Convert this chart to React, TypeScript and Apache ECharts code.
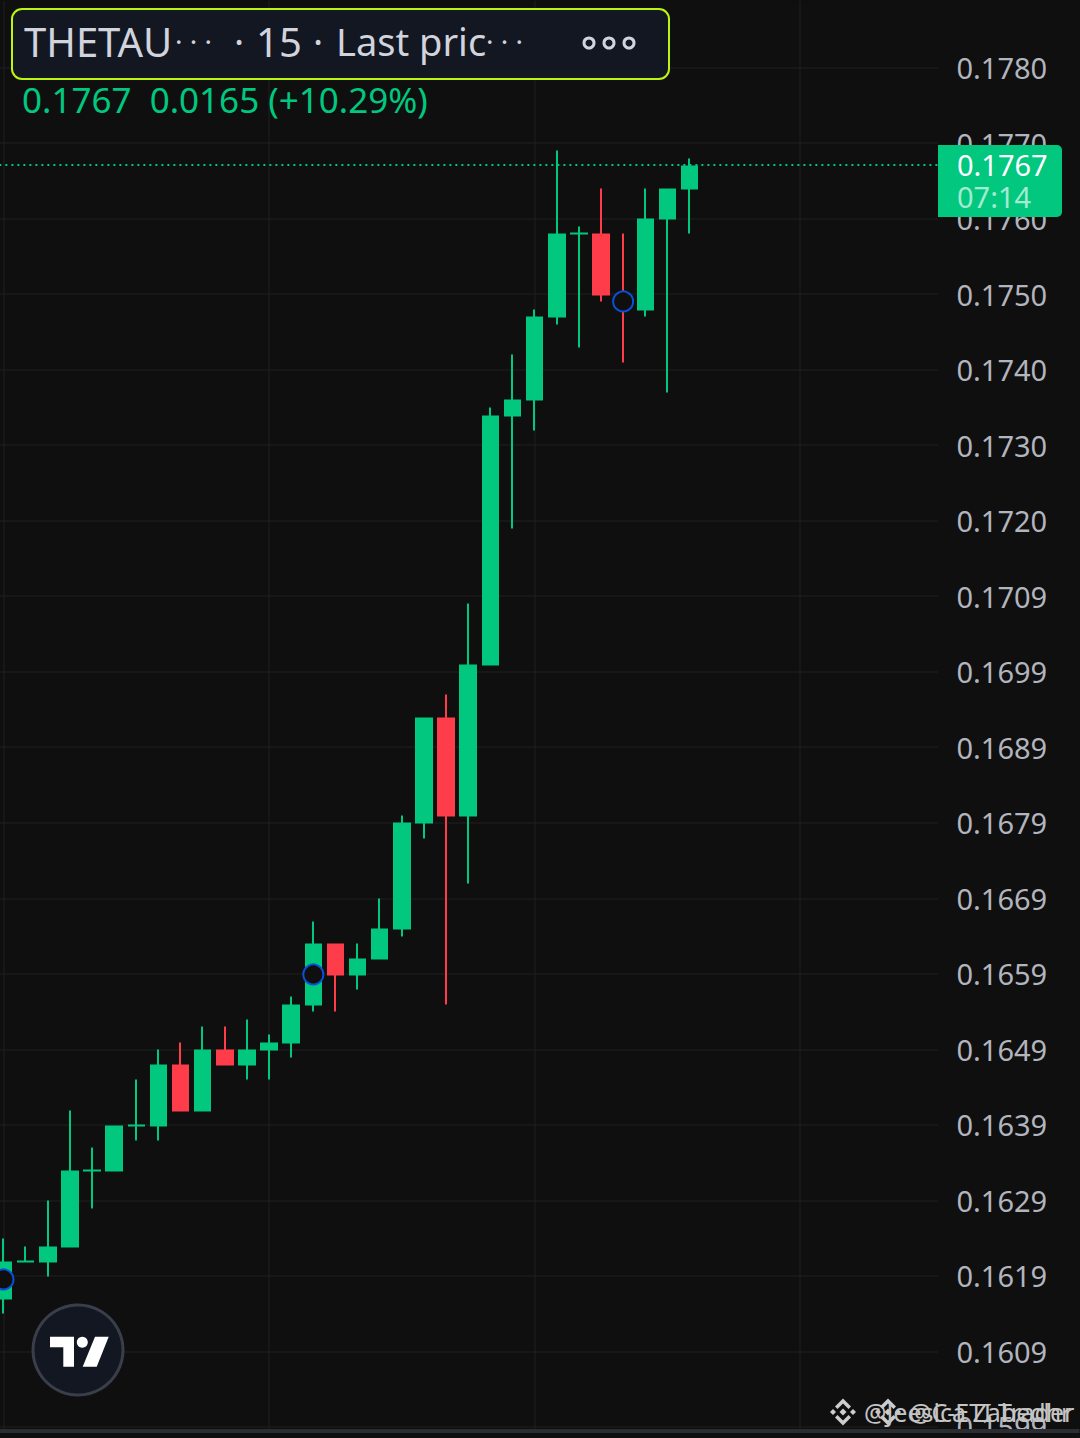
import React, { useEffect, useRef } from "react";
import * as echarts from "echarts";

// [open, close, low, high]
const candles: number[][] = [
  [0.161606, 0.162085, 0.161406, 0.162405],
  [0.162097, 0.162098, 0.162097, 0.162298],
  [0.162098, 0.162285, 0.161899, 0.162911],
  [0.162298, 0.163297, 0.162298, 0.164109],
  [0.163309, 0.16331, 0.162804, 0.163617],
  [0.16331, 0.163896, 0.16331, 0.163896],
  [0.163909, 0.16391, 0.16371, 0.164522],
  [0.16391, 0.164709, 0.16371, 0.164922],
  [0.164709, 0.164109, 0.164109, 0.165015],
  [0.164109, 0.164909, 0.164109, 0.165228],
  [0.164909, 0.164722, 0.164722, 0.165228],
  [0.164722, 0.164909, 0.164522, 0.165321],
  [0.164922, 0.165002, 0.164522, 0.165122],
  [0.165015, 0.165508, 0.164815, 0.165628],
  [0.165521, 0.16632, 0.165428, 0.166627],
  [0.16632, 0.165921, 0.165428, 0.16632],
  [0.165921, 0.16612, 0.165721, 0.166333],
  [0.166134, 0.16652, 0.166134, 0.166933],
  [0.166533, 0.167932, 0.166427, 0.168038],
  [0.167945, 0.16933, 0.167732, 0.16933],
  [0.16933, 0.168038, 0.165521, 0.16965],
  [0.168038, 0.170036, 0.167133, 0.170862],
  [0.170049, 0.173352, 0.170049, 0.173472],
  [0.173365, 0.173565, 0.17186, 0.174178],
  [0.173578, 0.174671, 0.173166, 0.174777],
  [0.174684, 0.175776, 0.174577, 0.176895],
  [0.175788, 0.175789, 0.174271, 0.175882],
  [0.175776, 0.174977, 0.174884, 0.176389],
  [0.174884, 0.17487, 0.174071, 0.175789],
  [0.174777, 0.175976, 0.174684, 0.176389],
  [0.175989, 0.176375, 0.173672, 0.176375],
  [0.176389, 0.176682, 0.175789, 0.176788],
];

const tickValues = [
  0.178, 0.176994, 0.175988, 0.174982, 0.173976, 0.172971, 0.171965, 0.170959, 0.169953,
  0.168947, 0.167941, 0.166935, 0.165929, 0.164923, 0.163917, 0.162912, 0.161906, 0.1609, 0.159894,
];
const tickLabels = [
  "0.1780", "0.1770", "0.1760", "0.1750", "0.1740", "0.1730", "0.1720", "0.1709", "0.1699",
  "0.1689", "0.1679", "0.1669", "0.1659", "0.1649", "0.1639", "0.1629", "0.1619", "0.1609", "0.1599",
];
const markers: number[][] = [
  [0, 0.161859],
  [14, 0.165921],
  [28, 0.174884],
];
const lastPrice = 0.176702;
const lastPriceLabel = "0.1767";
const countdownLabel = "07:14";
const symbolLabel = "THETAU";
const ellipsisLabel = "· · ·";
const intervalLabel = "15";
const sepLabel = "·";
const priceTypeLabel = "Last pric";
const changeLabel = "0.1767  0.0165 (+10.29%)";
const watermarkNames = ["@Jeesica Zabedhr", "@C-ETI Trader"];

const BG = "#0f0f0f";
const GRID = "#212121";
const UP = "#01c77f";
const DOWN = "#ff3d4a";
const FONT = "'Noto Sans', sans-serif";
const Y_MIN = 0.159847;
const Y_MAX = 0.178892;
const SLOTS = 45;
const STEP = 22.13;

function binance(cx: number, cy: number, z: number) {
  const c = "#cdcdcd";
  const dia = (x: number, y: number, r: number) => ({
    type: "polygon",
    z,
    shape: { points: [[cx + x, cy + y - r], [cx + x + r, cy + y], [cx + x, cy + y + r], [cx + x - r, cy + y]] },
    style: { fill: c },
  });
  const chev = (s: number) => ({
    type: "polygon",
    z,
    shape: {
      points: [
        [cx, cy + s * 13.5],
        [cx + 8, cy + s * 5.5],
        [cx + 5.5, cy + s * 3],
        [cx, cy + s * 8.5],
        [cx - 5.5, cy + s * 3],
        [cx - 8, cy + s * 5.5],
      ],
    },
    style: { fill: c },
  });
  return [dia(0, 0, 3.5), dia(-10, 0, 3), dia(10, 0, 3), chev(1), chev(-1)];
}

export default function App() {
  const ref = useRef<HTMLDivElement>(null);
  useEffect(() => {
    document.documentElement.style.overflow = "hidden";
    document.documentElement.style.background = BG;
    document.body.style.margin = "0";
    document.body.style.background = BG;
    const chart = echarts.init(ref.current!, undefined, { renderer: "svg" });
    const categories = Array.from({ length: SLOTS }, (_, i) => String(i));
    const text = (t: string, x: number, y: number, size: number, fill: string, z: number) => ({
      type: "text",
      z,
      style: { text: t, x, y, fontSize: size, fontFamily: FONT, fill, align: "left", verticalAlign: "middle" },
    });
    const head = "#d1d4dc";
    chart.setOption({
      animation: false,
      backgroundColor: BG,
      grid: {
        left: 4 - STEP,
        top: 0,
        width: STEP * (SLOTS - 1),
        height: 1430,
        containLabel: false,
        outerBoundsMode: "none",
      },
      xAxis: {
        type: "category",
        data: categories,
        boundaryGap: false,
        axisLine: { show: false },
        axisTick: { show: false },
        axisLabel: { show: false },
        splitLine: {
          show: true,
          interval: (i: number) => (i - 1) % 12 === 0,
          lineStyle: { color: GRID, width: 1 },
        },
      },
      yAxis: [
        {
          type: "value",
          position: "right",
          min: Y_MIN,
          max: Y_MAX,
          z: 0,
          axisLine: { show: false },
          axisTick: { show: false, customValues: tickValues },
          axisLabel: { show: false },
          splitLine: { show: true, lineStyle: { color: GRID, width: 1 } },
        },
        {
          type: "value",
          position: "right",
          min: Y_MIN,
          max: Y_MAX,
          z: 3,
          axisLine: { show: false },
          axisTick: { show: false, customValues: tickValues },
          splitLine: { show: false },
          axisLabel: {
            show: true,
            customValues: tickValues,
            margin: 1.4,
            color: "#b2b5be",
            fontSize: 29,
            fontFamily: FONT,
            formatter: (v: number) => {
              const i = tickValues.findIndex((t) => Math.abs(t - v) < 1e-7);
              return i >= 0 ? tickLabels[i] : "";
            },
          },
        },
      ],
      series: [
        {
          type: "candlestick",
          yAxisIndex: 0,
          barWidth: 16,
          data: [["-", "-", "-", "-"], ...candles],
          itemStyle: { color: UP, color0: DOWN, borderColor: UP, borderColor0: DOWN, borderWidth: 2 },
        },
        {
          type: "line",
          yAxisIndex: 0,
          symbol: "none",
          silent: true,
          z: 2,
          lineStyle: { color: UP, type: [2, 4], width: 2 },
          data: [
            [0, lastPrice],
            [SLOTS - 1, lastPrice],
          ],
        },
        {
          type: "scatter",
          yAxisIndex: 0,
          clip: false,
          symbol: "circle",
          symbolSize: 20,
          z: 4,
          itemStyle: { color: BG, borderColor: "#0c50d6", borderWidth: 2, opacity: 1 },
          data: markers.map(([i, p]) => [i + 1, p]),
        },
      ],
      graphic: [
        {
          type: "group",
          x: 0.5,
          y: -0.5,
          children: [
            { type: "rect", z: 1, shape: { x: 938, y: 0, width: 142, height: 1430 }, style: { fill: BG } },
            { type: "rect", z: 9, shape: { x: 0, y: 1433, width: 1080, height: 6 }, style: { fill: BG } },
            { type: "rect", z: 9, shape: { x: 0, y: 1429, width: 1080, height: 4 }, style: { fill: "#2a2e33" } },
            {
              type: "rect",
              z: 10,
              shape: { x: 938, y: 145, width: 124, height: 72, r: [0, 5, 5, 0] },
              style: { fill: UP },
            },
            text(lastPriceLabel, 957, 164, 29, "#ffffff", 11),
            text(countdownLabel, 957, 196, 29, "#a3ebd0", 11),
            {
              type: "rect",
              z: 10,
              shape: { x: 12, y: 9, width: 657, height: 70, r: 10 },
              style: { fill: "#131722", stroke: "#bcf50f", lineWidth: 2 },
            },
            text(symbolLabel, 24, 41, 40, head, 11),
            text(ellipsisLabel, 175, 41, 28, head, 11),
            text(sepLabel, 234, 41, 38, head, 11),
            text(intervalLabel, 256, 41, 40, head, 11),
            text(sepLabel, 313, 41, 38, head, 11),
            text(priceTypeLabel, 336, 41, 38, head, 11),
            text(ellipsisLabel, 486, 41, 28, head, 11),
            ...[589, 609, 629].map((cx) => ({
              type: "circle",
              z: 11,
              shape: { cx, cy: 43, r: 5 },
              style: { fill: "transparent", stroke: head, lineWidth: 3 },
            })),
            text(changeLabel, 22, 99.5, 35, UP, 11),
            {
              type: "circle",
              z: 10,
              shape: { cx: 78, cy: 1350, r: 45 },
              style: { fill: "#131722", stroke: "#3a3e4a", lineWidth: 3 },
            },
            {
              type: "polygon",
              z: 11,
              shape: { points: [[50, 1336.7], [74, 1336.7], [74, 1366.7], [63.3, 1366.7], [63.3, 1347.3], [50, 1347.3]] },
              style: { fill: "#ffffff" },
            },
            { type: "circle", z: 11, shape: { cx: 82.3, cy: 1342.3, r: 5.5 }, style: { fill: "#ffffff" } },
            {
              type: "polygon",
              z: 11,
              shape: { points: [[95, 1336.7], [108.7, 1336.7], [96.7, 1366.7], [82.7, 1366.7]] },
              style: { fill: "#ffffff" },
            },
            ...binance(843, 1412, 12),
            ...binance(888, 1412, 12),
            text(watermarkNames[0], 864, 1412, 25, "#c4c4c4", 12),
            text(watermarkNames[1], 909, 1412, 25, "#c4c4c4", 12),
          ],
        },
      ],
    });
    return () => chart.dispose();
  }, []);
  return (
    <div
      ref={ref}
      style={{ position: "absolute", left: 0, top: 0, width: 1080, height: 1438, transform: "translate(-0.5px, 0.5px)" }}
    />
  );
}
